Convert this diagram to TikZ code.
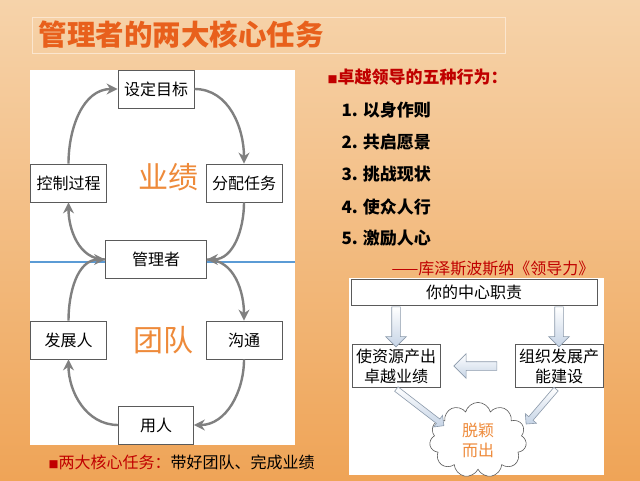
\documentclass[tikz,border=0pt]{standalone}
\usepackage{fontspec}
\setmainfont{Noto Sans CJK SC}
\usetikzlibrary{arrows.meta,positioning,calc,shapes.arrows,shapes.symbols}
\definecolor{bgtop}{HTML}{F6D3AA}
\definecolor{bgbot}{HTML}{EFA457}
\definecolor{titleorange}{HTML}{E8601C}
\definecolor{titleline}{HTML}{FBE6CF}
\definecolor{softorange}{HTML}{EE8A3A}
\definecolor{darkred}{HTML}{C00000}
\definecolor{loopgray}{HTML}{808080}
\definecolor{boxgray}{HTML}{5A5A5A}
\definecolor{lineblue}{HTML}{5B9BD5}
\definecolor{blkfill}{HTML}{C6D4E6}
\definecolor{blkline}{HTML}{8C9AAB}

\begin{document}
\begin{tikzpicture}[x=1pt,y=1pt,
  task/.style={draw=boxgray,fill=white,line width=0.8pt,minimum width=76pt,minimum height=38pt,inner sep=0pt,font=\fontsize{16pt}{18pt}\selectfont},
  loop/.style={-{Stealth[length=11pt,width=11pt]},line width=2.4pt,draw=loopgray},
  big/.style={text=softorange,font=\fontsize{30pt}{32pt}\selectfont},
  item/.style={anchor=west,font=\fontsize{17pt}{19pt}\selectfont\bfseries},
  duty/.style={draw=boxgray,fill=white,line width=0.8pt,align=center,inner sep=0pt,font=\fontsize{16pt}{20pt}\selectfont},
  blk/.style={single arrow,draw=blkline,line width=0.6pt,top color=white,bottom color=blkfill,inner xsep=0pt,single arrow head indent=0pt}
]
\useasboundingbox (0,0) rectangle (640,480);
\shade[top color=bgtop,bottom color=bgbot] (0,0) rectangle (640,480);

% title
\draw[titleline,line width=0.8pt] (32,427) rectangle (505,463);
\node[anchor=west,text=titleorange,font=\fontsize{28.5pt}{30pt}\selectfont\bfseries] (title) at (35,445) {管理者的两大核心任务};

% left panel: the two loops
\fill[white] (30,35) rectangle (295,410);
\draw[lineblue,line width=1.6pt] (30,218) -- (295,218);
\node[task] (goal)   at (156,391) {设定目标};
\node[task] (ctrl)   at (68.5,297) {控制过程};
\node[task] (assign) at (244,297) {分配任务};
\node[task,minimum width=101pt] (mgr) at (156,220.5) {管理者};
\node[task] (grow)   at (68.5,140) {发展人};
\node[task] (talk)   at (244,140) {沟通};
\node[task,minimum width=75pt] (use) at (156,55) {用人};
\node[big] (perf) at (168,303) {业绩};
\node[big] (team) at (163,140) {团队};
\draw[loop] (goal.east) to[out=0,in=90] (assign.north);
\draw[loop] (assign.south) to[out=-90,in=0] (mgr.east);
\draw[loop] (mgr.west) to[out=180,in=-90] (ctrl.south);
\draw[loop] (ctrl.north) to[out=90,in=180] (goal.west);
\draw[loop] (mgr.east) to[out=0,in=90] (talk.north);
\draw[loop] (talk.south) to[out=-90,in=0] (use.east);
\draw[loop] (use.west) to[out=180,in=-90] (grow.south);
\draw[loop] (grow.north) to[out=90,in=180] (mgr.west);
\node[anchor=west,font=\fontsize{16pt}{18pt}\selectfont] (sum) at (45,18)
  {\textcolor{darkred}{{\fontsize{10pt}{10pt}\selectfont ■}两大核心任务：}带好团队、完成业绩};

% right side: five practices
\node[anchor=west,text=darkred,font=\fontsize{17pt}{19pt}\selectfont\bfseries] (head) at (324,403)
  {{\fontsize{10pt}{10pt}\selectfont ■}卓越领导的五种行为：};
\node[item] (p1) at (338,370) {1.\hspace{5pt}以身作则};
\node[item] (p2) at (338,338) {2.\hspace{5pt}共启愿景};
\node[item] (p3) at (338,306) {3.\hspace{5pt}挑战现状};
\node[item] (p4) at (338,273) {4.\hspace{5pt}使众人行};
\node[item] (p5) at (338,242) {5.\hspace{5pt}激励人心};
\node[anchor=west,text=darkred,font=\fontsize{16pt}{18pt}\selectfont] (cite) at (388,212) {——库泽斯波斯纳《领导力》};

% right panel
\fill[white] (349,5) rectangle (604,202);
\node[duty,minimum width=246pt,minimum height=26pt] (duty) at (474,188) {你的中心职责};
\node[duty,minimum width=88pt,minimum height=43pt] (res) at (396,114) {使资源产出\\卓越业绩};
\node[duty,minimum width=88pt,minimum height=43pt] (org) at (559,114) {组织发展产\\能建设};
\node[cloud,cloud puffs=11,aspect=1.5,draw=boxgray,line width=0.6pt,fill=white,minimum width=97pt,minimum height=64pt,
  align=center,text=softorange,font=\fontsize{16pt}{20pt}\selectfont] (out) at (478,40) {脱颖\\而出};
\node[blk,rotate=-90,minimum height=40pt,inner ysep=4pt,single arrow head extend=6pt] (dnL)
  at ($(duty.south -| res)!0.5!(res.north)$) {};
\node[blk,rotate=-90,minimum height=40pt,inner ysep=4pt,single arrow head extend=6pt] (dnR)
  at ($(duty.south -| org)!0.5!(org.north)$) {};
\node[blk,rotate=180,minimum height=43pt,inner ysep=4pt,single arrow head extend=8pt] (toL)
  at ($(res.east)!0.5!(org.west)$) {};
\node[blk,rotate=-37.6,minimum height=60pt,inner ysep=2.5pt,single arrow head extend=4.5pt] (dgL) at (419,73.5) {};
\node[blk,rotate=229.4,minimum height=46pt,inner ysep=2.5pt,single arrow head extend=4.5pt] (dgR) at (542,74.5) {};
\end{tikzpicture}
\end{document}
